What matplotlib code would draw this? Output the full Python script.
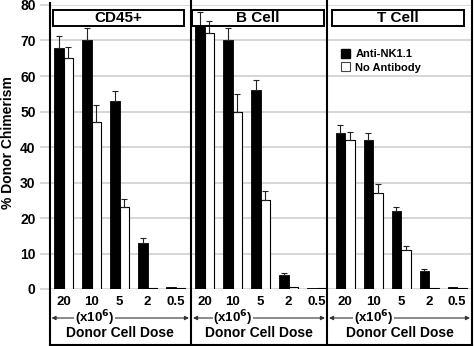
import numpy as np
import matplotlib
matplotlib.use('Agg')
import matplotlib.pyplot as plt
from matplotlib.patches import Rectangle, Patch, FancyArrowPatch
from matplotlib.lines import Line2D

plt.rcParams['font.family'] = ['Liberation Sans', 'DejaVu Sans']
plt.rcParams['font.weight'] = 'bold'

# dose groups (x10^6 donor cells)
doses = ['20', '10', '5', '2', '0.5']
panel_titles = ['CD45+', 'B Cell', 'T Cell']

# % donor chimerism, mean and upper error
anti_cd45 = [68, 70, 53, 13, 0.7]
anti_cd45_err = [3.4, 3.6, 2.7, 1.4, 0]
noab_cd45 = [65, 47, 23, 0.3, 0.3]
noab_cd45_err = [3.3, 4.7, 2.3, 0, 0]

anti_b = [74, 70, 56, 4, 0.3]
anti_b_err = [4, 3.5, 2.8, 0.4, 0]
noab_b = [72, 50, 25, 0.5, 0.2]
noab_b_err = [3.5, 5, 2.5, 0, 0]

anti_t = [44, 42, 22, 5, 0.7]
anti_t_err = [2.3, 2, 1, 0.5, 0]
noab_t = [42, 27, 11, 0.2, 0.2]
noab_t_err = [2.2, 2.7, 1, 0, 0]

anti_all = [anti_cd45, anti_b, anti_t]
anti_err_all = [anti_cd45_err, anti_b_err, anti_t_err]
noab_all = [noab_cd45, noab_b, noab_t]
noab_err_all = [noab_cd45_err, noab_b_err, noab_t_err]

W, H = 474, 346
def fx(px):
    return px / W
def fy(py):
    return 1 - py / H

fig = plt.figure(figsize=(W / 100, H / 100), dpi=100)

edges = [49.5, 191, 327, 472]
centers0 = [63.5, 204.5, 345.2]   # pixel position of first dose group
unit = 28.0                       # pixels between dose groups
y0, y80 = 289, 5
bw = 0.34
x = np.arange(len(doses))

grid_col = '#cfcfcf'
axes = []
for i in range(3):
    left, right = edges[i], edges[i + 1]
    ax = fig.add_axes([fx(left), fy(y0), fx(right) - fx(left), fy(y80) - fy(y0)])
    axes.append(ax)
    ax.set_xlim((left - centers0[i]) / unit, (right - centers0[i]) / unit)
    ax.set_ylim(0, 80)
    for s in ax.spines.values():
        s.set_visible(False)
    ax.set_yticks(np.arange(0, 81, 10))
    for yv in np.arange(0, 81, 10):
        ax.axhline(yv, color=grid_col, lw=1.2, zorder=0)
    ax.bar(x - bw / 2, anti_all[i], bw, color='black', edgecolor='black',
           lw=0.6, zorder=2)
    ax.bar(x + bw / 2, noab_all[i], bw, color='white', edgecolor='black',
           lw=0.8, zorder=2)
    for j in range(len(doses)):
        if anti_err_all[i][j] > 0:
            ax.errorbar(x[j] - bw / 2, anti_all[i][j],
                        yerr=[[0], [anti_err_all[i][j]]], fmt='none',
                        ecolor='#222222', elinewidth=0.8, capsize=2.2,
                        capthick=0.8, zorder=3, clip_on=False)
        if noab_err_all[i][j] > 0:
            ax.errorbar(x[j] + bw / 2, noab_all[i][j],
                        yerr=[[0], [noab_err_all[i][j]]], fmt='none',
                        ecolor='#222222', elinewidth=0.8, capsize=2.2,
                        capthick=0.8, zorder=3, clip_on=False)
    ax.set_xticks(x)
    ax.set_xticklabels(doses, fontsize=9.5, fontweight='bold')
    ax.tick_params(axis='x', length=0, pad=5)
    if i == 0:
        ax.tick_params(axis='y', length=7, color=grid_col, width=1.2,
                       labelsize=10, pad=3)
        for lab in ax.get_yticklabels():
            lab.set_fontweight('bold')
    else:
        ax.tick_params(axis='y', length=0, labelleft=False)

    # dose arrow and axis caption under each panel
    fig.add_artist(FancyArrowPatch(
        (fx(left + 2), fy(318)), (fx(right - 2), fy(318)),
        transform=fig.transFigure, arrowstyle='<|-|>', mutation_scale=6,
        lw=0.8, color='#333333', shrinkA=0, shrinkB=0))
    mid = (left + right) / 2
    fig.text(fx(mid - 26), fy(318), r'(x10$^{\mathbf{6}}$)', fontsize=9.5,
             ha='center', va='center',
             bbox=dict(facecolor='white', edgecolor='none', pad=0.5))
    fig.text(fx(mid), fy(333), 'Donor Cell Dose', fontsize=10,
             ha='center', va='center')

fig.text(fx(8), fy(143), '% Donor Chimerism', fontsize=10, rotation=90,
         ha='center', va='center')

# title boxes
boxes = [(53, 184), (192, 324), (332, 464)]
for (bl, br), title in zip(boxes, panel_titles):
    fig.add_artist(Rectangle((fx(bl), fy(26)), fx(br) - fx(bl), fy(9.7) - fy(26),
                             transform=fig.transFigure, facecolor='none',
                             edgecolor='black', lw=1.4))
    fig.text(fx((bl + br) / 2), fy(18), title, fontsize=11, ha='center',
             va='center')

# panel frame lines
fig.add_artist(Line2D([fx(49.5), fx(49.5)], [fy(3), fy(346)], color='black', lw=1.5))
for ex in edges[1:]:
    fig.add_artist(Line2D([fx(ex), fx(ex)], [fy(0), fy(346)], color='black', lw=1.5))
fig.add_artist(Line2D([fx(49.5), fx(472)], [fy(345), fy(345)], color='black', lw=1.5))

handles = [Patch(facecolor='black', edgecolor='black'),
           Patch(facecolor='white', edgecolor='#444444', lw=0.8)]
fig.legend(handles, ['Anti-NK1.1', 'No Antibody'], loc='upper left',
           bbox_to_anchor=(fx(341), fy(49)), frameon=False,
           prop={'size': 8, 'weight': 'bold'}, handlelength=0.8,
           handleheight=0.8, handletextpad=0.5, labelspacing=0.3,
           borderpad=0, borderaxespad=0)

fig.savefig('out.png', dpi=100)
